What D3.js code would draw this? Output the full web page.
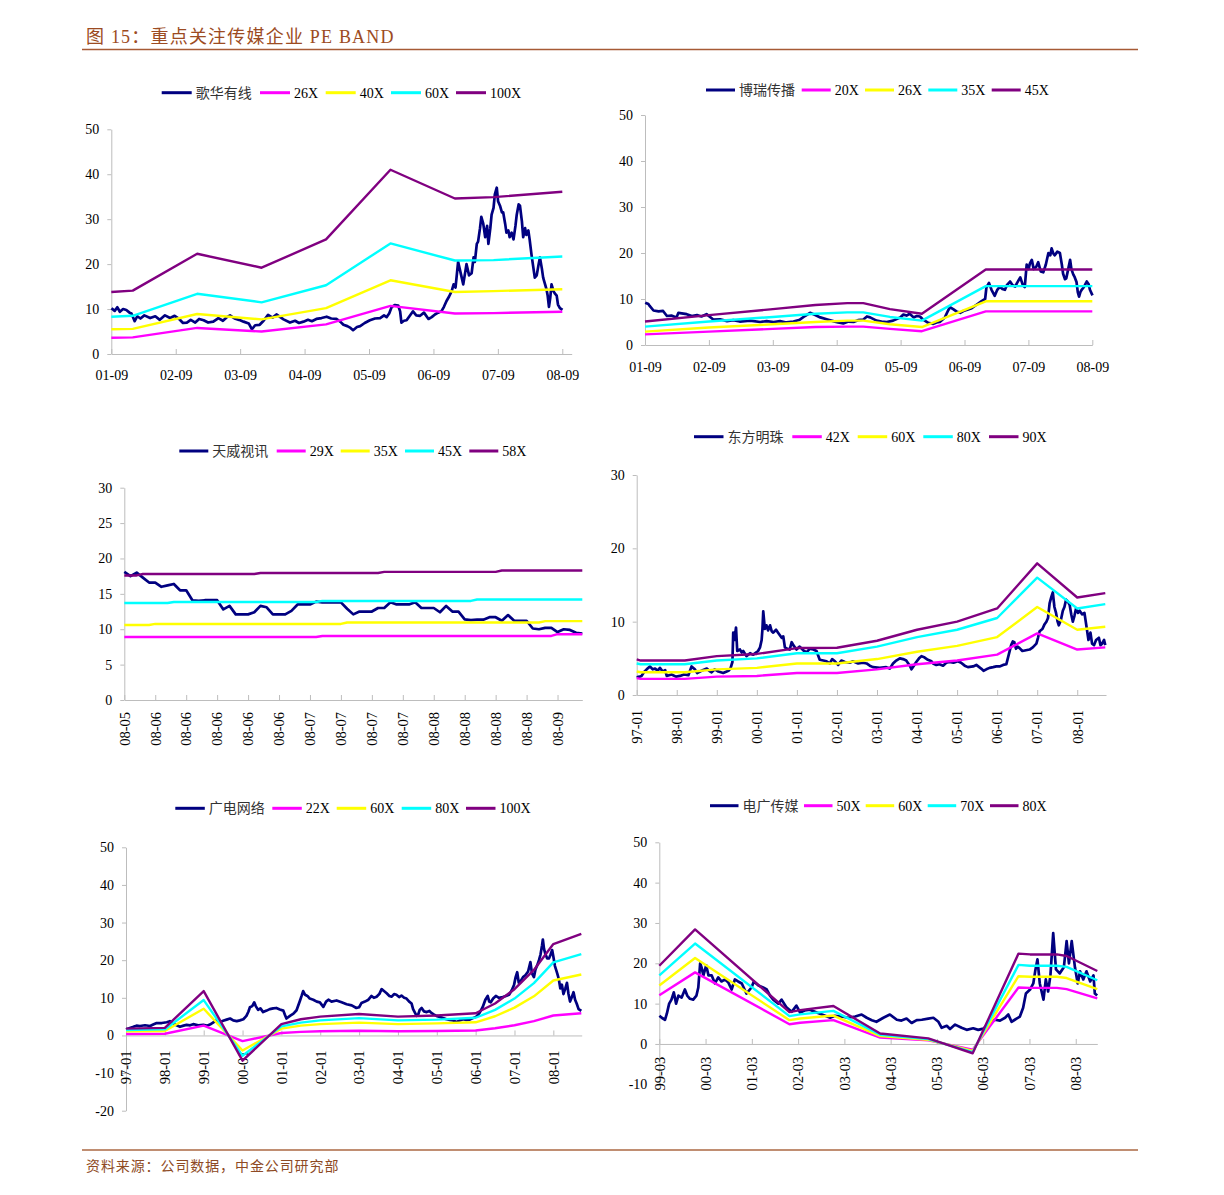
<!DOCTYPE html>
<html><head><meta charset="utf-8">
<script src="https://cdn.jsdelivr.net/npm/d3@7"></script>
<style>body{margin:0;background:#fff}svg{display:block}</style>
</head><body>
<svg id="c" width="1224" height="1195"></svg>
<script>
// ---------- Panel 1: 歌华有线 ----------
const gehuaNames = ["歌华有线","26X","40X","60X","100X"];
const gehuaX = [2001.67,2001.72,2001.76,2001.80,2001.85,2001.90,2001.95,2001.98,2002.03,2002.07,2002.12,2002.18,2002.27,2002.35,2002.42,2002.50,2002.58,2002.65,2002.72,2002.78,2002.84,2002.90,2002.97,2003.03,2003.10,2003.17,2003.25,2003.33,2003.40,2003.46,2003.51,2003.58,2003.65,2003.72,2003.80,2003.85,2003.90,2003.97,2004.03,2004.10,2004.17,2004.23,2004.29,2004.34,2004.44,2004.52,2004.58,2004.65,2004.72,2004.78,2004.85,2004.93,2005.01,2005.08,2005.16,2005.22,2005.27,2005.33,2005.38,2005.42,2005.48,2005.53,2005.60,2005.68,2005.76,2005.84,2005.90,2005.94,2005.98,2006.02,2006.07,2006.12,2006.15,2006.17,2006.21,2006.25,2006.30,2006.35,2006.40,2006.46,2006.52,2006.59,2006.64,2006.69,2006.74,2006.79,2006.83,2006.87,2006.91,2006.95,2006.98,2007.01,2007.05,2007.09,2007.13,2007.18,2007.22,2007.26,2007.29,2007.31,2007.34,2007.36,2007.39,2007.41,2007.44,2007.47,2007.50,2007.52,2007.55,2007.57,2007.60,2007.62,2007.65,2007.67,2007.70,2007.73,2007.75,2007.78,2007.80,2007.83,2007.85,2007.88,2007.91,2007.94,2007.96,2007.99,2008.01,2008.04,2008.06,2008.09,2008.11,2008.14,2008.16,2008.19,2008.22,2008.24,2008.27,2008.30,2008.32,2008.35,2008.37,2008.40,2008.42,2008.44,2008.46,2008.48,2008.50,2008.53,2008.55,2008.58,2008.60,2008.63,2008.67];
const gehuaPrice = [10.2,9.6,10.4,9.4,10.0,9.8,9.2,9.0,7.3,8.4,7.9,8.6,8.0,8.4,7.6,8.6,8.0,8.5,7.8,6.9,7.0,7.6,7.0,7.8,7.5,7.0,7.2,8.0,7.4,8.2,8.6,7.9,7.6,7.2,6.8,5.5,6.4,6.5,7.4,8.7,8.1,8.8,8.2,7.7,7.0,7.4,6.9,7.2,7.6,7.3,7.8,8.0,8.3,7.9,7.8,7.2,6.5,6.2,5.8,5.3,6.0,6.2,6.9,7.5,7.9,8.0,8.6,8.2,9.0,10.5,10.9,10.8,9.5,7.0,7.4,7.5,8.5,9.5,8.6,8.5,9.2,7.8,8.2,8.8,9.2,9.5,10.5,11.8,12.8,14.0,15.5,14.8,20.5,18.0,15.5,20.0,17.5,18.0,21.5,20.5,24.5,25.0,28.0,30.5,29.0,26.0,28.5,24.5,28.0,31.0,32.5,35.5,37.0,34.0,33.0,31.5,31.5,29.0,27.0,27.5,26.0,27.0,25.5,28.5,31.0,33.3,33.0,29.5,26.0,28.0,26.5,27.5,25.5,22.0,19.0,17.0,17.5,20.0,21.5,19.0,17.0,15.5,14.5,13.0,10.5,12.5,15.5,14.0,13.5,13.0,11.0,10.2,9.8];
const gehuaBandX = [2001.667,2002.0,2003.0,2004.0,2005.0,2006.0,2007.0,2007.6,2008.667];
const gehua26  = [3.6,3.7,5.8,5.0,6.6,10.7,9.0,9.1,9.4];
const gehua40  = [5.5,5.6,8.9,7.7,10.2,16.4,13.8,14.0,14.4];
const gehua60  = [8.3,8.5,13.4,11.5,15.3,24.6,20.8,20.9,21.7];
const gehua100 = [13.8,14.1,22.3,19.2,25.5,41.0,34.6,34.9,36.1];
const gehuaTicks = [2001.667,2002.667,2003.667,2004.667,2005.667,2006.667,2007.667,2008.667];
const gehuaTickLabels = ["01-09","02-09","03-09","04-09","05-09","06-09","07-09","08-09"];
const gehuaYTicks = [0,10,20,30,40,50];

// ---------- Panel 2: 博瑞传播 ----------
const boruiNames = ["博瑞传播","20X","26X","35X","45X"];
const boruiX = [2001.67,2001.72,2001.74,2001.80,2001.88,2001.95,2002.01,2002.08,2002.16,2002.19,2002.32,2002.40,2002.48,2002.55,2002.63,2002.74,2002.84,2002.95,2003.05,2003.15,2003.31,2003.47,2003.57,2003.68,2003.78,2003.88,2003.99,2004.09,2004.17,2004.25,2004.33,2004.41,2004.51,2004.61,2004.69,2004.77,2004.85,2004.93,2005.00,2005.08,2005.14,2005.19,2005.29,2005.37,2005.45,2005.55,2005.66,2005.71,2005.76,2005.81,2005.87,2005.92,2005.97,2006.02,2006.10,2006.18,2006.23,2006.28,2006.36,2006.41,2006.44,2006.49,2006.54,2006.60,2006.65,2006.70,2006.78,2006.86,2006.94,2006.99,2007.01,2007.05,2007.09,2007.14,2007.18,2007.22,2007.26,2007.30,2007.33,2007.38,2007.42,2007.46,2007.49,2007.54,2007.58,2007.61,2007.64,2007.67,2007.69,2007.72,2007.75,2007.79,2007.82,2007.86,2007.90,2007.94,2007.98,2008.01,2008.03,2008.06,2008.08,2008.12,2008.16,2008.19,2008.21,2008.24,2008.26,2008.29,2008.32,2008.34,2008.37,2008.39,2008.42,2008.44,2008.46,2008.48,2008.50,2008.53,2008.55,2008.58,2008.61,2008.63,2008.67];
const boruiPrice = [9.2,8.9,8.5,7.5,7.3,7.4,6.3,6.4,6.0,7.0,6.7,6.3,6.5,6.2,6.7,5.5,5.6,5.2,5.4,5.1,5.3,5.0,5.2,5.0,5.2,4.9,5.1,5.5,6.3,7.0,6.5,6.0,5.6,5.2,4.9,4.7,5.1,5.0,5.4,5.5,6.2,6.0,5.3,5.1,5.0,5.3,6.0,6.6,6.4,6.8,6.0,6.3,6.2,5.5,4.8,4.6,4.9,5.0,6.0,7.5,8.2,7.8,7.3,7.0,7.4,7.6,8.0,8.8,9.6,10.0,12.5,13.5,12.0,10.7,12.0,12.7,12.2,12.0,13.0,13.8,13.0,12.7,13.5,14.7,13.0,12.6,17.5,16.5,17.7,18.5,16.5,17.0,18.0,16.0,15.8,17.5,20.0,19.5,21.0,19.8,19.5,20.3,20.0,17.5,15.5,14.3,14.5,16.5,18.5,16.5,15.3,14.8,13.7,11.5,10.5,11.5,12.0,12.5,13.0,13.8,13.2,12.0,10.8];
const boruiBandX = [2001.667,2002.667,2003.667,2004.333,2004.833,2005.083,2005.5,2006.0,2007.0,2008.667];
const borui20 = [2.3,2.9,3.5,3.9,4.0,4.0,3.5,3.0,7.3,7.3];
const borui26 = [2.9,3.8,4.5,5.0,5.3,5.3,4.5,3.9,9.5,9.5];
const borui35 = [4.0,5.1,6.1,6.8,7.1,7.1,6.1,5.3,12.8,12.8];
const borui45 = [5.1,6.5,7.8,8.7,9.1,9.1,7.8,6.8,16.4,16.4];
const boruiTicks = [2001.667,2002.667,2003.667,2004.667,2005.667,2006.667,2007.667,2008.667];
const boruiTickLabels = ["01-09","02-09","03-09","04-09","05-09","06-09","07-09","08-09"];
const boruiYTicks = [0,10,20,30,40,50];

// ---------- Panel 3: 天威视讯 (daily, category index) ----------
const tianweiNames = ["天威视讯","29X","35X","45X","58X"];
const tianweiPrice = [18.1,17.5,18.0,17.3,16.6,16.6,16.0,16.2,16.4,15.5,15.5,14.1,14.0,14.1,14.1,14.1,12.8,13.3,12.1,12.1,12.1,12.4,13.3,13.1,12.1,12.1,12.1,12.6,13.5,13.5,13.5,13.9,13.8,13.8,13.8,13.8,12.9,12.1,12.5,12.5,12.5,13.0,13.0,13.8,13.5,13.5,13.5,13.8,13.0,13.0,13.0,12.4,13.3,12.5,12.5,11.4,11.3,11.35,11.35,11.7,11.7,11.2,12.0,11.2,11.2,11.2,10.1,10.0,10.2,10.2,9.6,10.0,9.9,9.5,9.4];
const tianwei29X = [0,31,32,69,70,74];
const tianwei29  = [8.9,8.9,9.05,9.05,9.3,9.3];
const tianwei35X = [0,4,5,35,36,67,68,74];
const tianwei35  = [10.6,10.6,10.75,10.75,10.95,10.95,11.15,11.15];
const tianwei45X = [0,7,8,31,32,56,57,74];
const tianwei45  = [13.7,13.7,13.85,13.85,14.0,14.0,14.2,14.2];
const tianwei58X = [0,2,3,21,22,41,42,60,61,74];
const tianwei58  = [17.6,17.6,17.8,17.8,17.95,17.95,18.1,18.1,18.3,18.3];
const tianweiTicks = [0,5,10,15,20,25,30,35,40,45,50,55,60,65,70];
const tianweiTickLabels = ["08-05","08-06","08-06","08-06","08-06","08-06","08-07","08-07","08-07","08-07","08-08","08-08","08-08","08-08","08-09"];
const tianweiYTicks = [0,5,10,15,20,25,30];

// ---------- Panel 4: 东方明珠 ----------
const dongfangNames = ["东方明珠","42X","60X","80X","90X"];
const dongfangX = [1997.00,1997.07,1997.12,1997.18,1997.25,1997.33,1997.40,1997.46,1997.52,1997.58,1997.65,1997.71,1997.75,1997.87,1997.98,1998.08,1998.18,1998.29,1998.37,1998.45,1998.51,1998.58,1998.66,1998.75,1998.81,1998.87,1998.95,1999.04,1999.16,1999.29,1999.34,1999.39,1999.41,1999.44,1999.48,1999.51,1999.58,1999.62,1999.66,1999.74,1999.83,1999.91,2000.03,2000.08,2000.12,2000.14,2000.16,2000.20,2000.24,2000.28,2000.33,2000.37,2000.41,2000.48,2000.53,2000.62,2000.66,2000.70,2000.76,2000.82,2000.87,2000.91,2000.99,2001.07,2001.16,2001.24,2001.32,2001.41,2001.49,2001.57,2001.66,2001.74,2001.82,2001.88,2001.95,2002.03,2002.11,2002.20,2002.32,2002.40,2002.53,2002.65,2002.74,2002.82,2002.90,2003.07,2003.23,2003.32,2003.40,2003.48,2003.57,2003.65,2003.73,2003.82,2003.86,2003.92,2003.98,2004.05,2004.11,2004.19,2004.27,2004.36,2004.40,2004.48,2004.56,2004.65,2004.73,2004.81,2004.91,2005.02,2005.10,2005.19,2005.27,2005.40,2005.48,2005.60,2005.66,2005.73,2005.81,2005.90,2005.98,2006.06,2006.15,2006.23,2006.29,2006.35,2006.39,2006.43,2006.47,2006.51,2006.56,2006.63,2006.72,2006.81,2006.89,2006.98,2007.02,2007.06,2007.13,2007.18,2007.23,2007.27,2007.31,2007.35,2007.39,2007.43,2007.47,2007.51,2007.54,2007.59,2007.64,2007.68,2007.72,2007.76,2007.81,2007.85,2007.89,2007.93,2007.97,2008.02,2008.06,2008.12,2008.18,2008.24,2008.28,2008.33,2008.37,2008.42,2008.47,2008.54,2008.58,2008.62,2008.67,2008.70];
const dongfangPrice = [2.4,2.5,2.6,3.1,3.5,3.9,3.5,3.6,3.3,3.7,3.2,3.4,2.6,2.8,2.5,2.6,2.8,2.7,3.9,3.5,3.0,3.2,3.4,3.6,3.3,3.1,3.5,3.2,3.0,3.3,3.6,4.5,8.5,7.5,9.2,6.0,6.2,5.8,6.0,5.3,5.7,5.5,6.0,6.5,7.5,9.0,11.4,9.0,9.5,8.8,9.5,8.7,8.5,8.9,8.5,7.8,8.0,6.5,6.3,6.2,7.2,6.8,6.2,6.6,6.1,5.8,6.3,6.2,6.0,4.8,4.7,4.6,4.3,4.9,4.6,4.1,4.7,4.5,4.4,4.6,4.3,4.4,4.3,4.0,3.8,3.7,3.8,3.6,4.3,4.7,5.0,4.9,4.7,4.0,3.5,4.0,4.5,5.0,5.3,5.1,4.8,4.6,4.3,4.1,4.2,4.0,4.4,4.5,4.4,4.6,4.4,4.0,3.8,3.9,4.1,3.6,3.3,3.5,3.7,3.8,3.9,3.9,4.1,4.2,5.5,6.8,7.3,7.2,6.3,6.6,6.4,6.0,6.1,6.2,6.5,7.0,7.8,8.7,9.0,9.6,10.0,10.5,12.5,13.3,14.0,12.0,11.2,10.0,9.5,10.2,11.5,12.0,13.0,12.8,12.3,11.0,10.0,10.8,11.8,11.2,11.5,11.0,11.2,9.0,7.5,8.5,7.0,6.8,7.5,7.8,6.8,7.0,7.5,6.8];
const dongfangBandX = [1997.0,1997.1,1998.2,1999.0,2000.0,2001.0,2002.0,2003.0,2004.0,2005.0,2006.0,2007.0,2008.0,2008.7];
const dongfang42 = [2.3,2.2,2.2,2.5,2.6,3.0,3.0,3.5,4.2,4.7,5.5,8.4,6.2,6.5];
const dongfang60 = [3.2,3.1,3.1,3.5,3.7,4.3,4.3,4.9,5.9,6.7,7.9,12.0,8.9,9.3];
const dongfang80 = [4.3,4.2,4.2,4.7,5.0,5.7,5.7,6.6,7.9,8.9,10.5,16.0,11.8,12.4];
const dongfang90 = [4.85,4.7,4.7,5.3,5.6,6.4,6.45,7.4,8.9,10.0,11.8,17.95,13.3,13.9];
const dongfangTicks = [1997,1998,1999,2000,2001,2002,2003,2004,2005,2006,2007,2008];
const dongfangTickLabels = ["97-01","98-01","99-01","00-01","01-01","02-01","03-01","04-01","05-01","06-01","07-01","08-01"];
const dongfangYTicks = [0,10,20,30];

// ---------- Panel 5: 广电网络 ----------
const guangdianNames = ["广电网络","22X","60X","80X","100X"];
const guangdianX = [1997.00,1997.10,1997.19,1997.27,1997.36,1997.49,1997.62,1997.70,1997.79,1997.92,1998.05,1998.13,1998.22,1998.30,1998.39,1998.48,1998.56,1998.65,1998.73,1998.86,1998.99,1999.08,1999.16,1999.25,1999.33,1999.42,1999.50,1999.59,1999.68,1999.76,1999.85,1999.93,2000.02,2000.10,2000.15,2000.19,2000.25,2000.30,2000.34,2000.40,2000.46,2000.53,2000.62,2000.70,2000.79,2000.87,2000.96,2001.05,2001.09,2001.13,2001.22,2001.31,2001.39,2001.48,2001.52,2001.56,2001.61,2001.67,2001.73,2001.82,2001.91,2001.99,2002.08,2002.15,2002.21,2002.29,2002.42,2002.55,2002.68,2002.81,2002.93,2003.00,2003.06,2003.15,2003.24,2003.32,2003.38,2003.45,2003.52,2003.58,2003.64,2003.71,2003.78,2003.84,2003.90,2003.96,2004.03,2004.09,2004.16,2004.22,2004.29,2004.35,2004.39,2004.44,2004.48,2004.52,2004.56,2004.61,2004.67,2004.74,2004.81,2004.86,2004.92,2004.99,2005.08,2005.16,2005.25,2005.33,2005.42,2005.51,2005.59,2005.68,2005.76,2005.85,2005.93,2006.02,2006.10,2006.18,2006.25,2006.31,2006.35,2006.39,2006.45,2006.52,2006.60,2006.70,2006.78,2006.86,2006.93,2006.99,2007.03,2007.07,2007.11,2007.16,2007.22,2007.28,2007.35,2007.41,2007.45,2007.50,2007.54,2007.58,2007.63,2007.67,2007.71,2007.73,2007.76,2007.80,2007.84,2007.89,2007.93,2007.97,2008.00,2008.04,2008.07,2008.10,2008.14,2008.18,2008.22,2008.26,2008.31,2008.35,2008.39,2008.43,2008.47,2008.52,2008.56,2008.60,2008.65,2008.72];
const guangdianPrice = [1.6,2.0,2.3,2.6,2.5,2.7,2.5,2.9,3.3,3.3,3.5,3.8,3.2,2.7,2.3,2.6,2.8,2.7,3.0,2.7,2.8,2.6,2.9,3.5,4.0,3.6,3.9,4.2,4.5,4.0,3.8,4.0,4.3,5.2,6.3,7.5,7.8,8.8,7.8,6.8,7.2,6.2,6.6,7.0,7.2,7.3,6.9,6.6,5.5,4.5,5.2,5.8,6.7,9.3,10.5,11.8,10.8,10.5,9.8,9.5,9.0,8.8,7.6,9.0,9.5,9.0,9.3,8.8,8.3,8.0,7.3,7.5,8.6,9.0,9.5,10.5,10.0,10.3,11.0,12.3,11.8,11.2,10.5,10.3,11.0,10.8,10.2,10.6,10.0,9.8,9.0,8.5,7.0,6.0,5.2,5.5,6.8,7.3,6.4,6.2,6.5,6.0,5.6,5.2,4.9,4.6,4.3,4.1,4.0,3.6,4.0,4.3,4.1,4.2,4.6,5.0,6.0,7.5,9.5,10.5,9.0,8.8,9.8,10.5,10.0,10.2,10.5,10.8,12.0,13.5,15.5,16.8,14.0,14.5,15.5,16.0,17.0,19.5,16.5,15.5,17.5,18.5,20.0,21.5,24.0,25.5,23.0,21.5,20.5,20.5,21.5,22.7,21.0,18.5,17.5,16.5,15.0,12.5,13.5,11.0,12.5,14.0,11.0,9.0,10.0,11.5,9.5,8.5,7.0,6.5];
const guangdianBandX = [1997.0,1998.0,1999.0,2000.0,2001.0,2001.5,2002.0,2003.0,2004.0,2005.0,2006.0,2006.5,2007.0,2007.5,2008.0,2008.72];
const guangdian22  = [0.4,0.44,2.6,-1.5,0.66,0.95,1.1,1.25,1.1,1.2,1.3,1.9,2.7,3.8,5.3,5.9];
const guangdian60  = [1.1,1.2,7.1,-4.0,1.8,2.6,3.0,3.4,3.0,3.2,3.5,5.1,7.4,10.4,14.6,16.2];
const guangdian80  = [1.44,1.6,9.4,-5.4,2.4,3.4,4.0,4.6,4.0,4.2,4.7,6.8,9.8,13.9,19.4,21.6];
const guangdian100 = [1.8,2.0,11.8,-6.7,3.0,4.3,5.0,5.7,5.0,5.3,5.9,8.5,12.3,17.4,24.3,27.0];
const guangdianTicks = [1997,1998,1999,2000,2001,2002,2003,2004,2005,2006,2007,2008];
const guangdianTickLabels = ["97-01","98-01","99-01","00-01","01-01","02-01","03-01","04-01","05-01","06-01","07-01","08-01"];
const guangdianYTicks = [-20,-10,0,10,20,30,40,50];

// ---------- Panel 6: 电广传媒 ----------
const dianguangNames = ["电广传媒","50X","60X","70X","80X"];
const dianguangX = [1999.17,1999.22,1999.29,1999.33,1999.38,1999.43,1999.48,1999.53,1999.58,1999.65,1999.72,1999.77,1999.83,1999.90,1999.97,2000.01,2000.05,2000.08,2000.12,2000.18,2000.23,2000.30,2000.37,2000.44,2000.51,2000.59,2000.66,2000.73,2000.80,2000.87,2000.95,2001.05,2001.16,2001.21,2001.31,2001.41,2001.49,2001.56,2001.63,2001.74,2001.81,2001.92,2002.03,2002.13,2002.21,2002.31,2002.42,2002.53,2002.64,2002.75,2002.86,2002.96,2003.11,2003.25,2003.40,2003.54,2003.65,2003.76,2003.86,2004.01,2004.15,2004.30,2004.40,2004.51,2004.62,2004.73,2004.84,2004.98,2005.09,2005.20,2005.27,2005.38,2005.45,2005.56,2005.70,2005.81,2005.95,2006.06,2006.17,2006.28,2006.42,2006.53,2006.64,2006.71,2006.78,2006.85,2006.96,2007.03,2007.09,2007.18,2007.25,2007.29,2007.34,2007.39,2007.47,2007.52,2007.57,2007.62,2007.68,2007.74,2007.82,2007.91,2007.97,2008.02,2008.08,2008.15,2008.21,2008.26,2008.33,2008.40,2008.48,2008.55,2008.58,2008.63];
const dianguangPrice = [7.0,6.5,6.0,7.5,10.0,11.0,12.8,10.0,12.0,11.5,13.5,12.0,11.2,11.0,12.0,14.0,20.0,19.0,17.0,19.5,17.0,17.0,15.0,16.5,15.5,16.0,15.2,13.5,16.0,15.5,15.0,12.5,14.0,15.5,14.5,14.0,13.5,12.0,11.0,10.0,11.0,9.0,8.0,9.5,7.8,8.3,8.5,8.0,7.5,7.0,6.5,7.0,6.8,6.5,6.8,7.3,6.5,5.9,5.5,6.5,7.3,6.0,5.8,6.3,5.2,5.9,6.0,6.3,6.5,5.5,4.0,4.5,3.7,4.8,4.0,3.5,3.9,3.5,3.8,5.0,6.0,5.8,6.5,7.3,5.5,6.0,6.8,9.0,12.5,13.5,15.0,18.0,21.0,15.0,11.0,16.0,13.0,17.0,27.5,18.5,17.5,19.0,25.5,20.0,25.5,19.0,15.0,18.0,16.0,18.0,15.5,17.0,12.5,12.0];
const dianguangBandX = [1999.167,1999.94,2001.98,2002.21,2002.93,2003.94,2004.98,2005.94,2006.93,2007.18,2007.76,2007.97,2008.633];
const dianguang50 = [12.1,17.75,4.9,5.25,5.9,1.6,0.9,-1.4,14.0,13.9,13.9,13.6,11.3];
const dianguang60 = [14.5,21.3,5.9,6.3,7.05,1.95,1.05,-1.7,16.8,16.65,16.65,16.35,13.6];
const dianguang70 = [17.0,24.9,6.9,7.35,8.2,2.3,1.2,-2.0,19.6,19.4,19.4,19.1,15.8];
const dianguang80 = [19.4,28.4,7.9,8.4,9.4,2.6,1.4,-2.3,22.4,22.2,22.2,21.8,18.1];
const dianguangTicks = [1999.167,2000.167,2001.167,2002.167,2003.167,2004.167,2005.167,2006.167,2007.167,2008.167];
const dianguangTickLabels = ["99-03","00-03","01-03","02-03","03-03","04-03","05-03","06-03","07-03","08-03"];
const dianguangYTicks = [-10,0,10,20,30,40,50];

// ---------- styles ----------
const seriesColors = ["#000080","#FF00FF","#FFFF00","#00FFFF","#800080"];
const LATIN = "'Liberation Serif','Times New Roman','Noto Sans CJK SC',serif";
const CJK = "'Liberation Serif','Noto Sans CJK SC',serif";

const svg = d3.select("#c");

// header
svg.append("text").attr("x",86).attr("y",43)
  .attr("font-family",CJK).attr("font-size",18).attr("letter-spacing",1.2)
  .attr("fill","#9C4B22").text("图 15：重点关注传媒企业 PE BAND");
svg.append("line").attr("x1",82).attr("x2",1138).attr("y1",49.5).attr("y2",49.5)
  .attr("stroke","#A65A35").attr("stroke-width",1.3);
svg.append("line").attr("x1",82).attr("x2",1138).attr("y1",1150).attr("y2",1150)
  .attr("stroke","#C08E72").attr("stroke-width",2);
svg.append("text").attr("x",86).attr("y",1171)
  .attr("font-family",CJK).attr("font-size",14).attr("letter-spacing",0.9)
  .attr("fill","#8E4A24").text("资料来源：公司数据，中金公司研究部");

function zip(xs, ys){ return xs.map((v,i)=>[v, ys[i]]); }

function drawPanel(p){
  const g = svg.append("g");
  const x = d3.scaleLinear().domain(p.xDomain).range(p.xRange);
  const y = d3.scaleLinear().domain(p.yDomain).range(p.yRange);

  const ya = g.append("g").attr("transform",`translate(${p.xRange[0]},0)`)
    .call(d3.axisLeft(y).tickValues(p.yTicks).tickFormat(d=>String(d)).tickSize(4).tickSizeOuter(0).tickPadding(8));
  const xa = g.append("g").attr("transform",`translate(0,${y(0)})`)
    .call(d3.axisBottom(x).tickValues(p.xTicks).tickFormat((d,i)=>p.xLabels[i]).tickSize(-5).tickSizeOuter(0));
  [ya,xa].forEach(a=>{
    a.select(".domain").attr("stroke","#BDBDBD");
    a.selectAll(".tick line").attr("stroke","#BDBDBD");
    a.selectAll("text").attr("font-family",LATIN).attr("font-size",14).attr("fill","#000");
  });
  if(p.rotate){
    xa.selectAll(".tick text").attr("transform","rotate(-90)")
      .attr("text-anchor","end").attr("x",-p.labelOffset).attr("y",0).attr("dy","0.33em")
      .attr("font-size",14.5);
  } else {
    xa.selectAll(".tick text").attr("y",p.labelOffset).attr("dy",0);
  }

  const line = d3.line().x(d=>x(d[0])).y(d=>y(d[1]));
  g.append("path").datum(zip(p.priceX,p.price)).attr("d",line)
    .attr("fill","none").attr("stroke",seriesColors[0]).attr("stroke-width",2.7).attr("stroke-linejoin","round");
  p.bands.forEach((b,i)=>{
    g.append("path").datum(zip(b[0],b[1])).attr("d",line)
      .attr("fill","none").attr("stroke",seriesColors[i+1]).attr("stroke-width",2.4).attr("stroke-linejoin","round");
  });

  const lg = g.append("g");
  p.names.forEach((n,i)=>{
    const x0 = p.legendX[i];
    lg.append("line").attr("x1",x0).attr("x2",x0+p.legendLen).attr("y1",p.legendY).attr("y2",p.legendY)
      .attr("stroke",seriesColors[i]).attr("stroke-width",3);
    lg.append("text").attr("x",x0+p.legendLen+4).attr("y",p.legendY+5)
      .attr("font-family",CJK).attr("font-size",14).attr("fill",i===0?"#333":"#000").text(n);
  });
}

function idx(arr){ return arr.map((v,i)=>i); }

drawPanel({
  names:gehuaNames, priceX:gehuaX, price:gehuaPrice,
  bands:[[gehuaBandX,gehua26],[gehuaBandX,gehua40],[gehuaBandX,gehua60],[gehuaBandX,gehua100]],
  xDomain:[2001.667,2008.813], xRange:[111.3,571.7], yDomain:[0,50], yRange:[354,129.3],
  yTicks:gehuaYTicks, xTicks:gehuaTicks, xLabels:gehuaTickLabels, rotate:false, labelOffset:26,
  legendX:[161.7,260,325.7,391,456], legendLen:30, legendY:92.7
});
drawPanel({
  names:boruiNames, priceX:boruiX, price:boruiPrice,
  bands:[[boruiBandX,borui20],[boruiBandX,borui26],[boruiBandX,borui35],[boruiBandX,borui45]],
  xDomain:[2001.667,2008.667], xRange:[645,1092.3], yDomain:[0,50], yRange:[345,115],
  yTicks:boruiYTicks, xTicks:boruiTicks, xLabels:boruiTickLabels, rotate:false, labelOffset:27,
  legendX:[706,801.7,865,928.3,991.7], legendLen:29, legendY:90
});
drawPanel({
  names:tianweiNames, priceX:idx(tianweiPrice), price:tianweiPrice,
  bands:[[tianwei29X,tianwei29],[tianwei35X,tianwei35],[tianwei45X,tianwei45],[tianwei58X,tianwei58]],
  xDomain:[0,74], xRange:[124.3,582.3], yDomain:[0,30], yRange:[700,487.7],
  yTicks:tianweiYTicks, xTicks:tianweiTicks, xLabels:tianweiTickLabels, rotate:true, labelOffset:12,
  legendX:[179.3,276.7,340.7,405,469.3], legendLen:29, legendY:451
});
drawPanel({
  names:dongfangNames, priceX:dongfangX, price:dongfangPrice,
  bands:[[dongfangBandX,dongfang42],[dongfangBandX,dongfang60],[dongfangBandX,dongfang80],[dongfangBandX,dongfang90]],
  xDomain:[1997,2008.718], xRange:[636.7,1106], yDomain:[0,30], yRange:[695,475],
  yTicks:dongfangYTicks, xTicks:dongfangTicks, xLabels:dongfangTickLabels, rotate:true, labelOffset:15,
  legendX:[694,792.3,857.7,923.3,989], legendLen:29.5, legendY:436.7
});
drawPanel({
  names:guangdianNames, priceX:guangdianX, price:guangdianPrice,
  bands:[[guangdianBandX,guangdian22],[guangdianBandX,guangdian60],[guangdianBandX,guangdian80],[guangdianBandX,guangdian100]],
  xDomain:[1997,2008.73], xRange:[126,581.7], yDomain:[-20,50], yRange:[1110.7,847.3],
  yTicks:guangdianYTicks, xTicks:guangdianTicks, xLabels:guangdianTickLabels, rotate:true, labelOffset:15,
  legendX:[175.3,272.3,336.7,401.7,466], legendLen:29.5, legendY:808.3
});
drawPanel({
  names:dianguangNames, priceX:dianguangX, price:dianguangPrice,
  bands:[[dianguangBandX,dianguang50],[dianguangBandX,dianguang60],[dianguangBandX,dianguang70],[dianguangBandX,dianguang80]],
  xDomain:[1999.167,2008.633], xRange:[659.3,1097.3], yDomain:[-10,50], yRange:[1084.3,842.3],
  yTicks:dianguangYTicks, xTicks:dianguangTicks, xLabels:dianguangTickLabels, rotate:true, labelOffset:12.7,
  legendX:[710,804,865.7,927.7,990], legendLen:28.5, legendY:805.7
});
</script>
</body></html>
